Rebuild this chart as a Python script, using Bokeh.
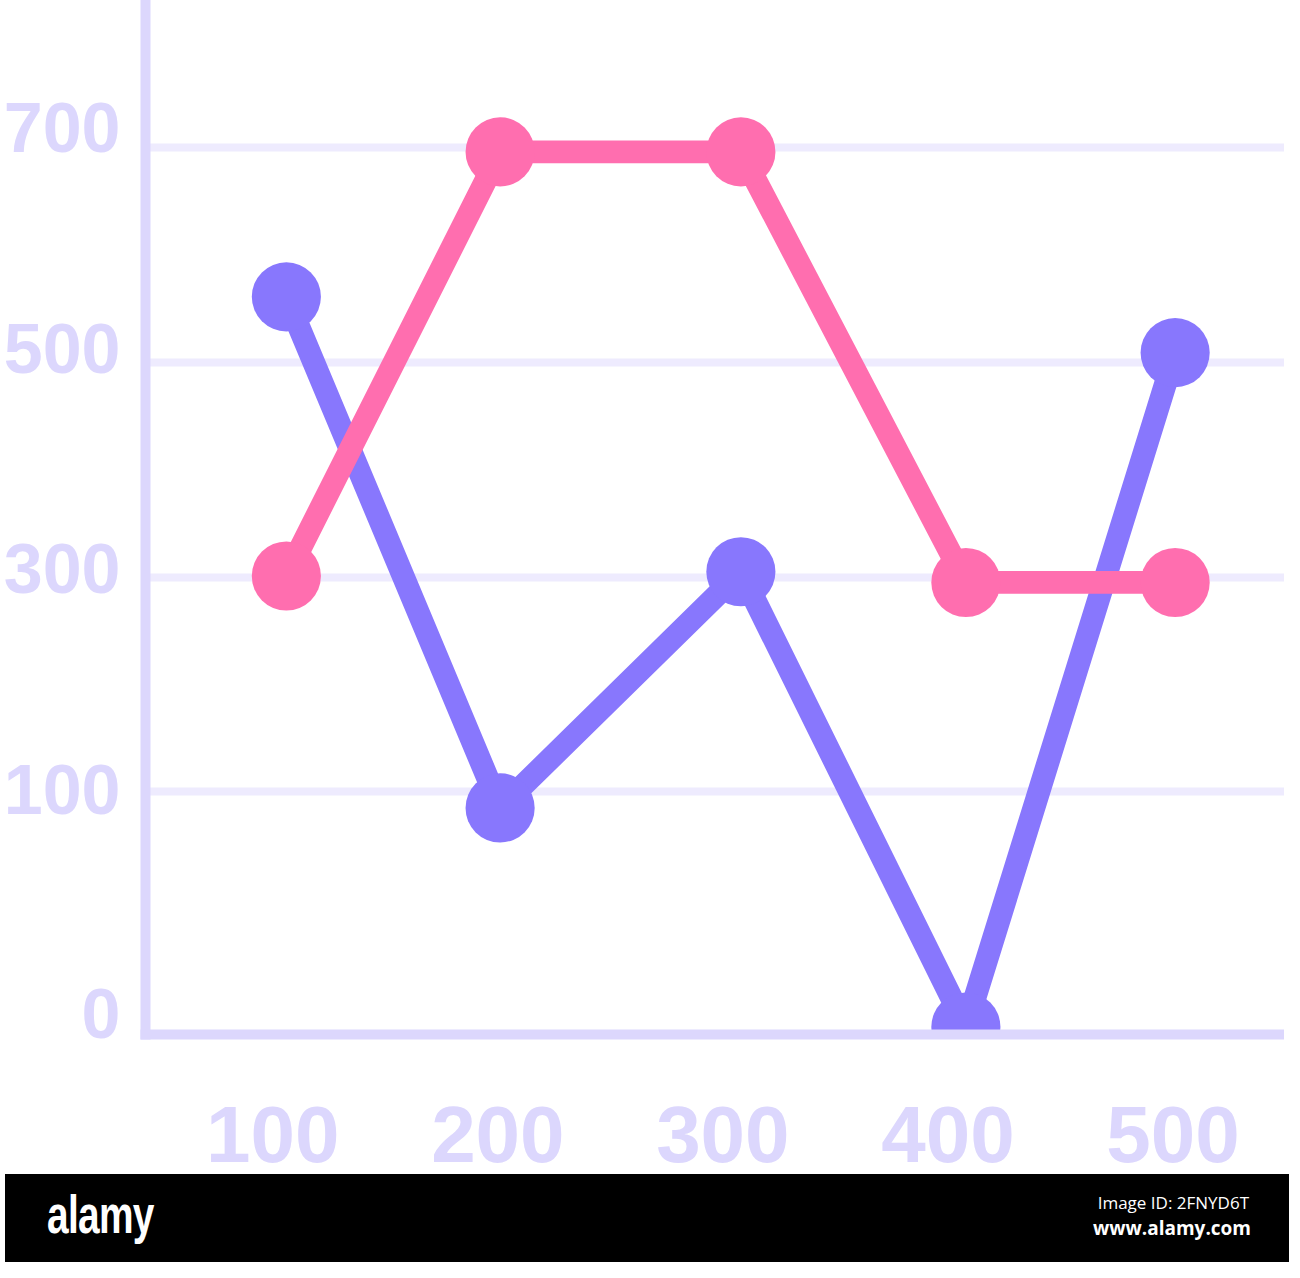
from bokeh.plotting import figure
from bokeh.layouts import column
from bokeh.models import FixedTicker, Range1d, Div
from bokeh.embed import file_html
from bokeh.resources import INLINE

# ---------------- data ----------------
x_vals = [106, 201, 308, 408, 501]
pink_vals = [301, 696, 696, 295, 295]
purple_vals = [561, 85, 305, -119, 509]   # baseline of the chart (labelled "0") sits at about -126 on this linear scale

x_ticks = [100, 200, 300, 400, 500]
x_tick_labels = ["100", "200", "300", "400", "500"]
y_grid_values = [100, 300, 500, 700]
y_tick_labels = ["0", "100", "300", "500", "700"]

# ---------------- layout / style ----------------
S = 1284 / 1300.0
W = 1284
OVERLAP = 24                      # the watermark band is pulled up over the empty bottom strip of the chart
H_BAND = 88
H_MAIN = 1262 - H_BAND + OVERLAP

LAV = "#DCD7FD"
GRID = "#EEEBFE"
PURPLE = "#8877FD"
PINK = "#FF6EAF"
NUM_FONT = "Liberation Sans"

y_lo, y_hi = -126, 837
y_label_pos = [y_lo + 20, 102, 308, 513, 719]

p = figure(width=W, height=H_MAIN, output_backend="svg", toolbar_location=None,
           x_range=Range1d(43.4, 549.6), y_range=Range1d(y_lo, y_hi),
           min_border_left=round(146 * S), min_border_right=0,
           min_border_top=0, min_border_bottom=H_MAIN - round(1047 * S))
p.background_fill_color = "white"
p.border_fill_color = "white"
p.outline_line_color = None

p.xgrid.visible = False
p.ygrid.ticker = FixedTicker(ticks=y_grid_values)
p.ygrid.grid_line_color = GRID
p.ygrid.grid_line_width = 8

for ax in (p.xaxis[0], p.yaxis[0]):
    ax.axis_line_color = LAV
    ax.axis_line_width = 10
    ax.axis_line_cap = "square"
    ax.major_tick_line_color = None
    ax.minor_tick_line_color = None
    ax.major_tick_out = 0
    ax.major_tick_in = 0
    ax.minor_tick_out = 0
    ax.major_label_text_color = LAV
    ax.major_label_text_font = NUM_FONT
    ax.major_label_text_font_style = "bold"

p.xaxis.major_label_text_font_size = "80px"
p.yaxis.major_label_text_font_size = "70px"

p.xaxis.ticker = FixedTicker(ticks=x_ticks)
p.xaxis.major_label_overrides = {t: l for t, l in zip(x_ticks, x_tick_labels)}
p.xaxis.major_label_standoff = 72

p.yaxis.ticker = FixedTicker(ticks=y_label_pos)
p.yaxis.major_label_overrides = {t: l for t, l in zip(y_label_pos, y_tick_labels)}
p.yaxis.major_label_standoff = 25

lw = 23 * S
ms = 70 * S
p.line(x_vals, purple_vals, line_color=PURPLE, line_width=lw, line_join="round")
p.line(x_vals, pink_vals, line_color=PINK, line_width=lw, line_join="round")
p.scatter(x_vals, purple_vals, size=ms, fill_color=PURPLE, line_color=None)
p.scatter(x_vals, pink_vals, size=ms, fill_color=PINK, line_color=None)

band_html = (
    '<div style="position:relative;width:%dpx;height:%dpx;background:#000;overflow:hidden;">'
    '<span style="position:absolute;left:42px;top:12px;color:#fff;font-family:\'Liberation Sans\';'
    'font-weight:bold;font-size:54px;line-height:56px;letter-spacing:-1px;'
    'transform:scaleX(0.72);transform-origin:left center;display:inline-block;">alamy</span>'
    '<span style="position:absolute;right:40px;top:19px;color:#fff;font-family:\'Open Sans\';'
    'font-size:17px;line-height:20px;">Image ID: 2FNYD6T</span>'
    '<span style="position:absolute;right:38px;top:43px;color:#fff;font-family:\'Open Sans\';'
    'font-weight:bold;font-size:19px;line-height:22px;">www.alamy.com</span>'
    '</div>' % (W, H_BAND)
)
band = Div(text=band_html, width=W, height=H_BAND,
           styles={"background-color": "black", "margin-top": "-%dpx" % OVERLAP,
                   "position": "relative", "z-index": "10"})

layout = column(p, band, spacing=0)
open("out.html", "w").write(file_html(layout, INLINE))
